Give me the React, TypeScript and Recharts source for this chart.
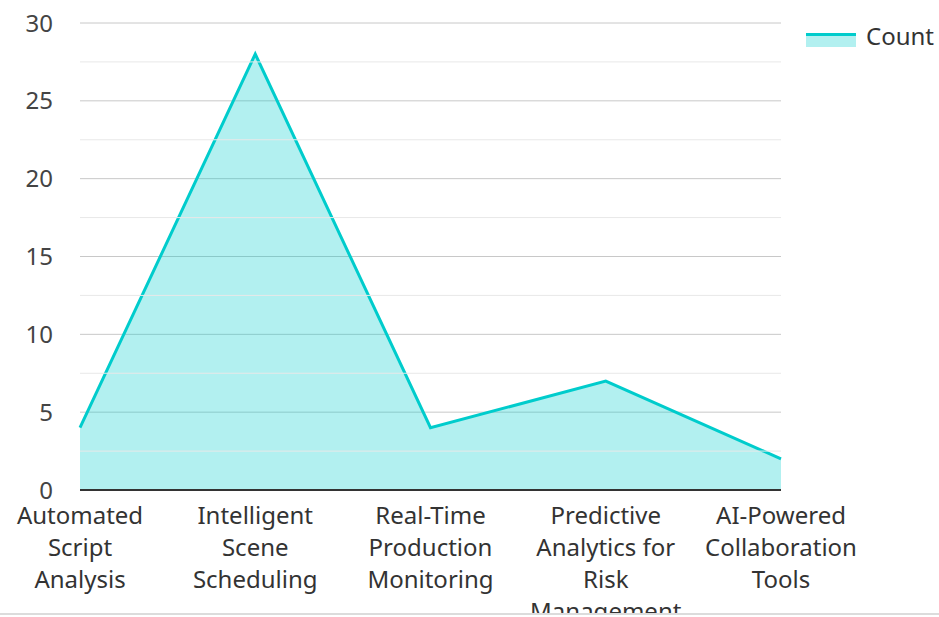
import React from 'react';
import { AreaChart, Area, XAxis, YAxis, CartesianGrid, ReferenceLine } from 'recharts';

const categories = [
  'Automated Script Analysis',
  'Intelligent Scene Scheduling',
  'Real-Time Production Monitoring',
  'Predictive Analytics for Risk Management',
  'AI-Powered Collaboration Tools',
];
const counts = [4, 28, 4, 7, 2];
const yTicks = [0, 5, 10, 15, 20, 25, 30];
const minorTicks = [2.5, 7.5, 12.5, 17.5, 22.5, 27.5];

const data = categories.map((name, i) => ({ name, count: counts[i] }));

const FONT = '"Noto Sans", sans-serif';
const TEAL = '#00cccc';
const FS = 24;

let ctx: CanvasRenderingContext2D | null = null;
const measure = (s: string) => {
  if (!ctx) {
    ctx = document.createElement('canvas').getContext('2d');
    if (ctx) ctx.font = `${FS}px "Noto Sans"`;
  }
  return ctx ? ctx.measureText(s).width : s.length * 12;
};

const wrap = (label: string, max: number) => {
  const words = label.split(' ');
  const lines: string[] = [];
  let cur = '';
  words.forEach((w) => {
    const next = cur ? cur + ' ' + w : w;
    if (cur && measure(next) > max) {
      lines.push(cur);
      cur = w;
    } else {
      cur = next;
    }
  });
  if (cur) lines.push(cur);
  return lines;
};

const XTick = (props: any) => {
  const { x, y, payload } = props;
  const lines = wrap(payload.value, 155);
  return (
    <text x={x} y={y} textAnchor="middle" fill="#333" fontSize={FS} fontFamily={FONT}>
      {lines.map((l, i) => (
        <tspan key={i} x={x} dy={i === 0 ? 26 : 32}>
          {l}
        </tspan>
      ))}
    </text>
  );
};

export default function App() {
  return (
    <div
      style={{
        position: 'fixed',
        top: 0,
        left: 0,
        width: 939,
        height: 613,
        overflow: 'hidden',
        borderBottom: '2px solid #dcdcdc',
        background: '#fff',
        fontFamily: FONT,
      }}
    >
      <AreaChart width={939} height={640} data={data} margin={{ top: 23, right: 158, left: 0, bottom: 0 }}>
        <CartesianGrid vertical={false} stroke="#c8c8c8" />
        {minorTicks.map((v) => (
          <ReferenceLine key={v} y={v} stroke="#e8e8e8" />
        ))}
        <XAxis
          dataKey="name"
          tick={<XTick />}
          tickLine={false}
          axisLine={{ stroke: '#333', strokeWidth: 2 }}
          interval={0}
          height={150}
        />
        <YAxis
          domain={[0, 30]}
          ticks={yTicks}
          width={80}
          tickLine={false}
          axisLine={false}
          tickMargin={21}
          tick={{ fill: '#444', fontSize: FS, fontFamily: FONT }}
        />
        <Area
          type="linear"
          dataKey="count"
          stroke={TEAL}
          strokeWidth={3}
          fill={TEAL}
          fillOpacity={0.3}
          dot={false}
          activeDot={false}
          isAnimationActive={false}
        />
      </AreaChart>
      <div
        style={{
          position: 'absolute',
          top: 33,
          left: 806,
          width: 50,
          height: 11,
          borderTop: `3px solid ${TEAL}`,
          background: 'rgba(0,204,204,0.3)',
        }}
      />
      <span
        style={{
          position: 'absolute',
          top: 22,
          left: 866,
          fontSize: FS,
          lineHeight: '28px',
          color: '#333',
        }}
      >
        Count
      </span>
    </div>
  );
}
